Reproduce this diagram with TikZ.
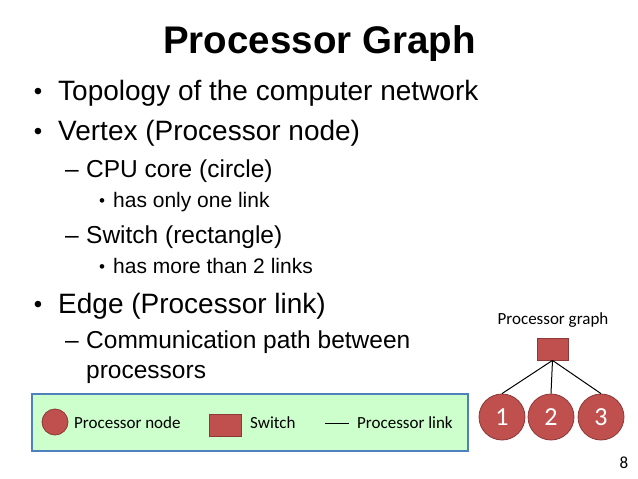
\documentclass[tikz,border=0pt]{standalone}
\usepackage{fontspec}
\setmainfont{Liberation Sans}
\newfontfamily\calibri{Carlito}
\definecolor{nodered}{HTML}{C0504D}
\definecolor{nodeborder}{HTML}{8C3836}
\definecolor{legfill}{HTML}{CCFFCC}
\definecolor{legborder}{HTML}{4F81BD}
\tikzset{
  txt/.style={anchor=base west, inner sep=0pt},
  lvlone/.style={txt, font=\fontsize{28}{30}\selectfont},
  lvltwo/.style={txt, font=\fontsize{24.5}{27}\selectfont},
  lvlthree/.style={txt, font=\fontsize{21}{23}\selectfont},
  bigdot/.style={txt, font=\fontsize{24}{26}\selectfont},
  smalldot/.style={txt, font=\fontsize{17}{19}\selectfont},
  proc/.style={circle, fill=nodered, draw=nodeborder, line width=0.8pt, minimum size=46pt, inner sep=0pt, text=white, font=\calibri\fontsize{26}{28}\selectfont},
  sw/.style={rectangle, fill=nodered, draw=nodeborder, line width=0.8pt, inner sep=0pt},
  cal/.style={txt, font=\calibri\fontsize{17}{19}\selectfont},
  link/.style={draw=black, line width=1pt}
}
\begin{document}
\begin{tikzpicture}[x=1pt,y=-1pt]
\useasboundingbox (0,0) rectangle (638,479);
% title
\node[txt, font=\bfseries\fontsize{38.5}{40}\selectfont] (title) at (163,53) {Processor Graph};
% bullets
\node[bigdot] (b1) at (33.8,99) {•};
\node[lvlone] (t1) at (58,100) {Topology of the computer network};
\node[bigdot] (b2) at (33.8,139) {•};
\node[lvlone] (t2) at (58,140) {Vertex (Processor node)};
\node[lvltwo] (d1) at (65,177) {--};
\node[lvltwo] (t3) at (86,177) {CPU core (circle)};
\node[smalldot] (b3) at (99,206.3) {•};
\node[lvlthree] (t4) at (113,207) {has only one link};
\node[lvltwo] (d2) at (65,243) {--};
\node[lvltwo] (t5) at (86,243) {Switch (rectangle)};
\node[smalldot] (b4) at (99,272.3) {•};
\node[lvlthree] (t6) at (113,273) {has more than 2 links};
\node[bigdot] (b5) at (33.8,312) {•};
\node[lvlone] (t7) at (58,313) {Edge (Processor link)};
\node[lvltwo] (d3) at (65,348) {--};
\node[lvltwo] (t8) at (86,348) {Communication path between};
\node[lvltwo] (t9) at (86,378) {processors};
% legend
\node[draw=legborder, fill=legfill, line width=1.2pt, minimum width=436pt, minimum height=57pt, inner sep=0pt] (legend) at (250,422.5) {};
\node[proc, minimum size=26pt] (lc) at (55,422) {};
\node[cal] (lct) at (74,428) {Processor node};
\node[sw, minimum width=32pt, minimum height=22pt] (ls) at (225,425) {};
\node[cal] (lst) at (250,428) {Switch};
\coordinate (la) at (325,423);
\coordinate (lb) at (349,423);
\draw[link] (la) -- (lb);
\node[cal] (llt) at (357,428) {Processor link};
% graph
\node[txt, font=\calibri\fontsize{17}{19}\selectfont, anchor=base] (gt) at (553,324) {Processor graph};
\node[sw, minimum width=31pt, minimum height=22pt] (s) at (552.5,349) {};
\node[proc] (p1) at (502,417) {1};
\node[proc] (p2) at (551,417) {2};
\node[proc] (p3) at (601,417) {3};
\draw[link] (s.south) -- (p1.north);
\draw[link] (s.south) -- (p2.north);
\draw[link] (s.south) -- (p3.north);
% page number
\node[cal, anchor=base] (pg) at (624,468) {8};
\end{tikzpicture}
\end{document}
